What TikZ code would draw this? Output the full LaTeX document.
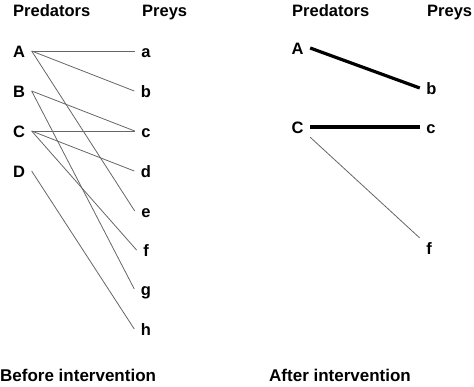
\documentclass[tikz,border=0pt]{standalone}
\usepackage{fontspec}
\setmainfont{Liberation Sans}
\usepackage{tikz}
\definecolor{linkgray}{gray}{0.4}

\begin{document}
\begin{tikzpicture}[x=1pt, y=-1pt, font=\fontsize{16.5}{18}\selectfont\bfseries,
    sp/.style={inner xsep=6.5pt, inner ysep=4pt, text height=12pt, text depth=0pt},
    head/.style={anchor=base west, inner sep=0pt},
    weak/.style={draw=linkgray, line width=0.8pt},
    strong/.style={draw=black, line width=3.2pt}]
    \useasboundingbox (0,0) rectangle (474,386);

    % Headings
    \node[head] (lpred) at (13,16) {Predators};
    \node[head] (lprey) at (142,16) {Preys};
    \node[head] (rpred) at (292,16) {Predators};
    \node[head] (rprey) at (427,16) {Preys};

    % Before intervention: predators and preys
    \foreach \n/\y in {A/51, B/91, C/131, D/171} {
        \node[sp] (l\n) at (19,\y) {\n};
    }
    \foreach \n/\y in {a/51, b/91, c/131, d/171, e/211, f/250, g/289, h/329} {
        \node[sp] (l\n) at (146,\y) {\n};
    }

    % Links before
    \foreach \p/\q in {A/a, A/b, A/e, B/c, B/g, C/c, C/d, C/f, D/h} {
        \draw[weak] (l\p.east) -- (l\q.west);
    }

    % After intervention
    \node[sp] (rA) at (297.5,48) {A};
    \node[sp] (rC) at (297.5,127) {C};
    \node[sp] (rb) at (431.5,88) {b};
    \node[sp] (rc) at (431,127) {c};
    \node[sp] (rf) at (429,248) {f};

    \draw[strong] (rA.east) -- (rb.west);
    \draw[strong] (rC.east) -- (rc.west);
    \draw[weak] (rC.south east) -- (rf.north west);

    % Titles
    \node[head, font=\fontsize{17}{20}\selectfont\bfseries] (before) at (0,381) {Before intervention};
    \node[head, font=\fontsize{17}{20}\selectfont\bfseries] (after) at (269,381.5) {After intervention};
\end{tikzpicture}
\end{document}
